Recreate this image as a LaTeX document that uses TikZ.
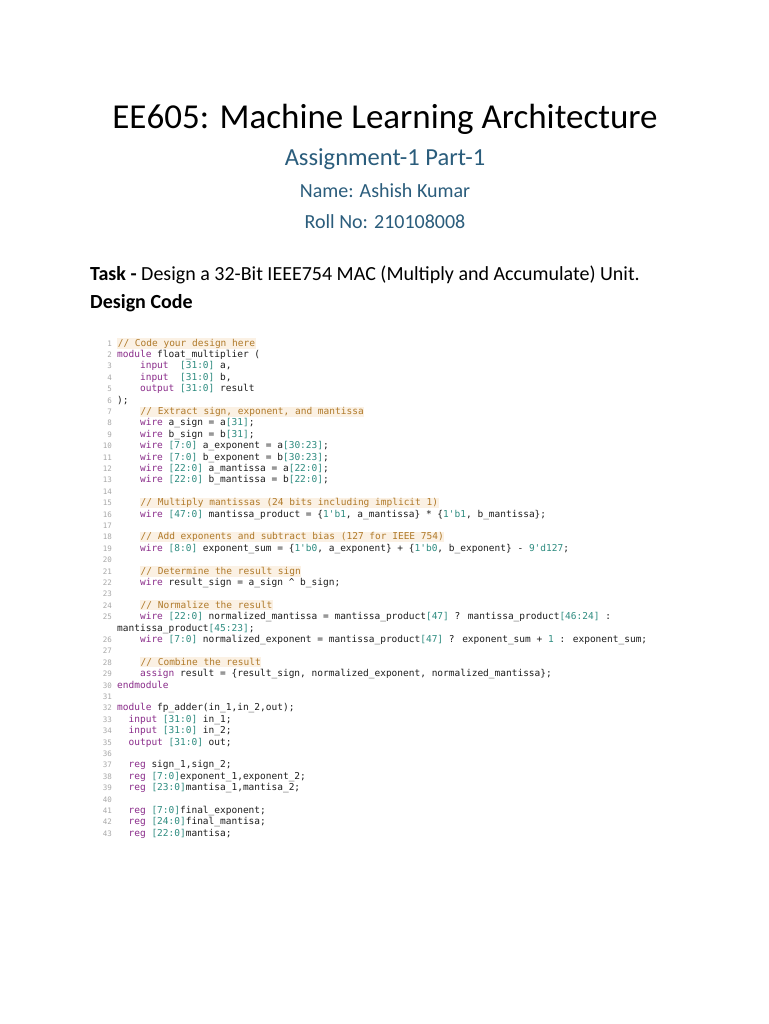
\documentclass[tikz,border=0pt]{standalone}
\usepackage{fontspec}
\setmainfont{Carlito}
\newfontfamily\cd{DejaVu Sans Mono}
\definecolor{kw}{HTML}{8A2C8A}
\definecolor{nu}{HTML}{2E8C80}
\definecolor{cmc}{HTML}{B07A2A}
\definecolor{cmb}{HTML}{FBF1E4}
\definecolor{hd}{HTML}{2B5D7C}
\definecolor{lnc}{HTML}{A8A8A8}
\definecolor{tx}{HTML}{1E1E1E}
\newcommand\K[1]{\textcolor{kw}{#1}}
\newcommand\N[1]{\textcolor{nu}{#1}}
\newcommand\C[1]{{\setlength{\fboxsep}{0.6pt}\colorbox{cmb}{\textcolor{cmc}{#1}}}}
\newcommand\U{\_}
\tikzset{codeln/.style={anchor=base west,inner sep=0pt,font=\cd\fontsize{9.5}{11}\selectfont,text=tx},
 lnum/.style={anchor=base east,inner sep=0pt,font=\cd\fontsize{7.5}{9}\selectfont,text=lnc}}
\newcommand\CL[4]{%
 \node[lnum] (n#1) at (112,{346+11.4*(#1-1)}) {#2};
 \node[codeln] (c#1) at ({117+5.72*#3},{346+11.4*(#1-1)}) {#4};}
\begin{document}
\begin{tikzpicture}[x=1pt,y=-1pt]
\useasboundingbox[fill=white] (0,0) rectangle (768,1024);
\node[font=\fontsize{35}{40}\selectfont,text=black,anchor=base] (title) at (385,129) {EE605: Machine Learning Architecture};
\node[font=\fontsize{24.5}{28}\selectfont,text=hd,anchor=base] (sub) at (385,166) {Assignment-1 Part-1};
\node[font=\fontsize{20}{24}\selectfont,text=hd,anchor=base] (name) at (385,198) {Name: Ashish Kumar};
\node[font=\fontsize{20}{24}\selectfont,text=hd,anchor=base] (roll) at (385,229) {Roll No: 210108008};
\node[font=\fontsize{20}{24}\selectfont,anchor=base west,inner sep=0pt] (task) at (90,280) {\textbf{Task -} Design a 32-Bit IEEE754 MAC (Multiply and Accumulate) Unit.};
\node[font=\fontsize{20}{24}\selectfont\bfseries,anchor=base west,inner sep=0pt] (dc) at (90,308) {Design Code};
\CL{1}{1}{0}{\C{// Code your design here}}
\CL{2}{2}{0}{\K{module} float\U multiplier (}
\CL{3}{3}{4}{\K{input}\ \ \N{[31:0]} a,}
\CL{4}{4}{4}{\K{input}\ \ \N{[31:0]} b,}
\CL{5}{5}{4}{\K{output} \N{[31:0]} result}
\CL{6}{6}{0}{);}
\CL{7}{7}{4}{\C{// Extract sign, exponent, and mantissa}}
\CL{8}{8}{4}{\K{wire} a\U sign = a\N{[31]};}
\CL{9}{9}{4}{\K{wire} b\U sign = b\N{[31]};}
\CL{10}{10}{4}{\K{wire} \N{[7:0]} a\U exponent = a\N{[30:23]};}
\CL{11}{11}{4}{\K{wire} \N{[7:0]} b\U exponent = b\N{[30:23]};}
\CL{12}{12}{4}{\K{wire} \N{[22:0]} a\U mantissa = a\N{[22:0]};}
\CL{13}{13}{4}{\K{wire} \N{[22:0]} b\U mantissa = b\N{[22:0]};}
\CL{14}{14}{0}{}
\CL{15}{15}{4}{\C{// Multiply mantissas (24 bits including implicit 1)}}
\CL{16}{16}{4}{\K{wire} \N{[47:0]} mantissa\U product = \{\N{1'b1}, a\U mantissa\} * \{\N{1'b1}, b\U mantissa\};}
\CL{17}{17}{0}{}
\CL{18}{18}{4}{\C{// Add exponents and subtract bias (127 for IEEE 754)}}
\CL{19}{19}{4}{\K{wire} \N{[8:0]} exponent\U sum = \{\N{1'b0}, a\U exponent\} + \{\N{1'b0}, b\U exponent\} - \N{9'd127};}
\CL{20}{20}{0}{}
\CL{21}{21}{4}{\C{// Determine the result sign}}
\CL{22}{22}{4}{\K{wire} result\U sign = a\U sign \textasciicircum\ b\U sign;}
\CL{23}{23}{0}{}
\CL{24}{24}{4}{\C{// Normalize the result}}
\CL{25}{25}{4}{\K{wire} \N{[22:0]} normalized\U mantissa = mantissa\U product\N{[47]} ? mantissa\U product\N{[46:24]} :}
\CL{26}{}{0}{mantissa\U product\N{[45:23]};}
\CL{27}{26}{4}{\K{wire} \N{[7:0]} normalized\U exponent = mantissa\U product\N{[47]} ? exponent\U sum + \N{1} : exponent\U sum;}
\CL{28}{27}{0}{}
\CL{29}{28}{4}{\C{// Combine the result}}
\CL{30}{29}{4}{\K{assign} result = \{result\U sign, normalized\U exponent, normalized\U mantissa\};}
\CL{31}{30}{0}{\K{endmodule}}
\CL{32}{31}{0}{}
\CL{33}{32}{0}{\K{module} fp\U adder(in\U 1,in\U 2,out);}
\CL{34}{33}{2}{\K{input} \N{[31:0]} in\U 1;}
\CL{35}{34}{2}{\K{input} \N{[31:0]} in\U 2;}
\CL{36}{35}{2}{\K{output} \N{[31:0]} out;}
\CL{37}{36}{0}{}
\CL{38}{37}{2}{\K{reg} sign\U 1,sign\U 2;}
\CL{39}{38}{2}{\K{reg} \N{[7:0]}exponent\U 1,exponent\U 2;}
\CL{40}{39}{2}{\K{reg} \N{[23:0]}mantisa\U 1,mantisa\U 2;}
\CL{41}{40}{0}{}
\CL{42}{41}{2}{\K{reg} \N{[7:0]}final\U exponent;}
\CL{43}{42}{2}{\K{reg} \N{[24:0]}final\U mantisa;}
\CL{44}{43}{2}{\K{reg} \N{[22:0]}mantisa;}
\end{tikzpicture}
\end{document}
